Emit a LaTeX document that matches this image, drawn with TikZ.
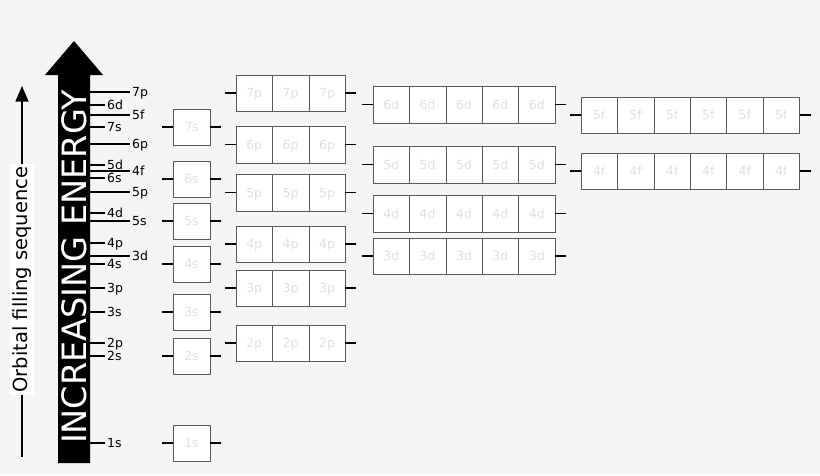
\documentclass[tikz,border=0pt]{standalone}
\usepackage{fontspec}
\setmainfont{DejaVu Sans}
\usetikzlibrary{arrows.meta}
\definecolor{bgback}{RGB}{245,245,245}

\begin{document}
\begin{tikzpicture}[x=1pt,y=-1pt,
    cell/.style={draw=black!65,fill=white,minimum width=36.4pt,minimum height=36.6pt,
      inner sep=0pt,text=black!12,text height=9.1pt,text depth=0pt,
      font=\fontsize{12.5}{14}\selectfont},
    tick/.style={line width=1.4pt},
    lvl/.style={anchor=west,inner sep=2pt,text height=9.1pt,text depth=0pt,
      font=\fontsize{12.5}{14}\selectfont}]
  \useasboundingbox[fill=bgback] (0,0) rectangle (820,475);

  % big energy arrow
  \fill (58,463) -- (58,75) -- (45,75) -- (74,41) -- (103,75) -- (90,75) -- (90,463) -- cycle;
  \node[rotate=90,text=white,inner sep=0pt,font=\fontsize{33.5}{36}\selectfont] (energy)
    at (74.5,267) {INCREASING ENERGY};

  % filling sequence
  \node[rotate=90,fill=white,inner sep=2.5pt,font=\fontsize{19.5}{22}\selectfont] (seq)
    at (22,279.5) {Orbital filling sequence};
  \coordinate (seqbot) at (22,457);
  \coordinate (seqtop) at (22,86);
  \draw[line width=1.2pt] (seqbot) -- (seq.west);
  \draw[line width=1.2pt,-{Triangle[length=15.5pt,width=13pt]}] (seq.east) -- (seqtop);

  % energy levels
  \foreach \n/\y/\len in {1s/443/15, 2s/356/15, 2p/343/15, 3s/312/15, 3p/288/15,
      4s/264/15, 3d/256/40, 4p/243/15, 5s/221/40, 4d/213/15, 5p/192/40, 6s/178/15,
      4f/171/40, 5d/165/15, 6p/144/40, 7s/127/15, 5f/115/40, 6d/105/15, 7p/92/40}
  {
    \node[lvl] (e\n) at (90+\len,\y) {\n};
    \draw[line width=1.3pt] (90,\y) -- (e\n.west);
  }

  % orbital boxes
  \foreach \o/\x/\y/\k in {1s/191.5/443/1, 2s/191.5/356/1, 3s/191.5/312/1, 4s/191.5/264/1,
      5s/191.5/221/1, 6s/191.5/179/1, 7s/191.5/127/1,
      2p/254.2/343/3, 3p/254.2/288/3, 4p/254.2/244/3, 5p/254.2/192.5/3, 6p/254.2/144.5/3,
      7p/254.2/93/3,
      3d/391.2/256/5, 4d/391.2/213.5/5, 5d/391.2/164.5/5, 6d/391.2/104.5/5,
      4f/599.2/171/6, 5f/599.2/115/6}
  {
    \foreach \i in {1,...,\k}
      \node[cell] (\o-\i) at (\x+36.4*\i-36.4,\y) {\o};
    \draw[tick] (\o-1.west) -- +(-11,0);
    \draw[tick] (\o-\k.east) -- +(11,0);
  }
\end{tikzpicture}
\end{document}
